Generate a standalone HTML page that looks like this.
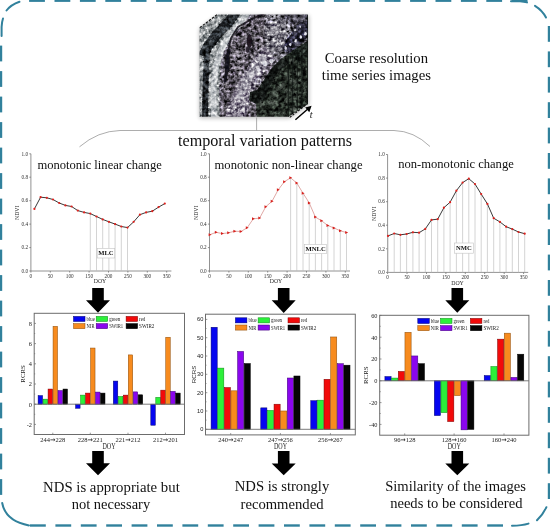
<!DOCTYPE html>
<html><head><meta charset="utf-8"><title>Temporal variation patterns</title>
<style>
html,body{margin:0;padding:0;background:#fff;}
body{width:550px;height:527px;overflow:hidden;}
svg{display:block;font-family:"Liberation Serif","Times New Roman",serif;}
</style></head><body>
<svg width="550" height="527" viewBox="0 0 550 527">
<rect width="550" height="527" fill="#fff"/>
<defs>
<clipPath id="imgclip"><path d="M199.5 27.8 L217.6 14.6 H308 V104 L288.6 116.8 H199.5Z"/></clipPath>
<filter id="speck" x="190" y="8" width="128" height="118" filterUnits="userSpaceOnUse" color-interpolation-filters="sRGB">
<feGaussianBlur in="SourceGraphic" stdDeviation="0.7" result="b"/>
<feTurbulence type="fractalNoise" baseFrequency="0.33" numOctaves="2" seed="11" result="t"/>
<feColorMatrix in="t" type="matrix" values="1.15 1.15 0 0 -0.66  1.15 1.15 0 0 -0.66  1.15 1.15 0 0 -0.66  0 0 0 0 1" result="g"/>
<feBlend in="g" in2="b" mode="overlay" result="o"/>
<feTurbulence type="fractalNoise" baseFrequency="0.14" numOctaves="2" seed="4" result="t2"/>
<feColorMatrix in="t2" type="matrix" values="1.0 1.0 0 0 -0.6  1.0 1.0 0 0 -0.6  1.0 1.0 0 0 -0.6  0 0 0 0 1" result="g2"/>
<feBlend in="g2" in2="o" mode="soft-light"/>
</filter>
<filter id="soft" x="190" y="8" width="128" height="118" filterUnits="userSpaceOnUse"><feGaussianBlur stdDeviation="0.45"/></filter>
<filter id="shadow" x="185" y="5" width="140" height="125" filterUnits="userSpaceOnUse"><feGaussianBlur stdDeviation="2.2"/></filter>
</defs>
<path d="M199.5 28.8 L217.6 15.6 H309 V105 L289.6 118.2 H199.5Z" fill="#000" opacity="0.28" filter="url(#shadow)"/>
<g clip-path="url(#imgclip)">
<g filter="url(#speck)">
<rect x="190" y="8" width="128" height="118" fill="#75717d"/>
<!-- left light zone -->
<path d="M195 10 H250 L236 28 L226 44 L221 62 L219 90 L220 120 H195Z" fill="#a4a8aa"/>
<!-- mauve body -->
<path d="M262 12 L250 20 L237 28 L230 40 L228 56 L226 70 L222 90 L221 120 H258 L257 104 L260 92 L266 80 L274 68 L270 50 L268 28 L280 12Z" fill="#6b6670"/>
<!-- lighter lavender streak -->
<path d="M270 42 L254 58 L240 78 L230 100 L224 120 H246 L250 100 L258 82 L268 66 L278 54Z" fill="#96909e"/>
<path d="M262 52 L246 74 L236 96 L240 100 L254 76 L268 58Z" fill="#b3b0ba"/>
<!-- upper right gray -->
<path d="M266 12 H312 V44 L292 54 L276 60 L266 46 L264 28Z" fill="#77757f"/>
<path d="M264 24 L284 20 L288 40 L278 54 L266 48Z" fill="#8d8b94"/>
<path d="M310 14 L312 32 L290 56 L282 48 L296 26Z" fill="#3c3b4c"/>
<path d="M282 12 H312 V20 L292 24Z" fill="#484652"/>
<path d="M284.5 46.0 L288.3 36.0 L288.7 44.5Z" fill="#2b2a40"/><ellipse cx="285.7" cy="48.0" rx="1.3" ry="1.7" fill="#e6e6ee"/><path d="M289.2 42.7 L293.0 32.7 L293.4 41.2Z" fill="#2b2a40"/><ellipse cx="290.4" cy="44.7" rx="1.3" ry="1.7" fill="#e6e6ee"/><path d="M294.4 38.9 L298.2 28.9 L298.6 37.4Z" fill="#2b2a40"/><ellipse cx="295.6" cy="40.9" rx="1.3" ry="1.7" fill="#e6e6ee"/><path d="M299.7 35.0 L303.5 25.0 L303.9 33.5Z" fill="#2b2a40"/><ellipse cx="300.9" cy="37.0" rx="1.3" ry="1.7" fill="#e6e6ee"/><path d="M304.4 31.7 L308.2 21.7 L308.6 30.2Z" fill="#2b2a40"/><ellipse cx="305.6" cy="33.7" rx="1.3" ry="1.7" fill="#e6e6ee"/><ellipse cx="280.2" cy="41.0" rx="1.0" ry="1.2" fill="#c9c9d2"/><ellipse cx="284.9" cy="37.7" rx="1.0" ry="1.2" fill="#c9c9d2"/><ellipse cx="290.1" cy="33.9" rx="1.0" ry="1.2" fill="#c9c9d2"/><ellipse cx="295.4" cy="30.0" rx="1.0" ry="1.2" fill="#c9c9d2"/><ellipse cx="300.1" cy="26.7" rx="1.0" ry="1.2" fill="#c9c9d2"/>
<!-- dark band -->
<path d="M236 10 L228 22 L215 35 L207 48 L206.5 62 L205.5 90 L205 120" fill="none" stroke="#34393e" stroke-width="6" stroke-linejoin="round"/>
<path d="M237 10 L229 22 L217 34 L208 46 L203 56" fill="none" stroke="#34393e" stroke-width="10" stroke-linejoin="round"/>
<!-- white band -->
<path d="M250 10 L241 22 L229 36 L221 50 L216 66 L213.5 90 L214 120" fill="none" stroke="#c9cccf" stroke-width="6" stroke-linejoin="round"/>
<!-- dark green -->
<path d="M312 40 L294 50 L282 58 L272 68 L264 80 L258 92 L256 104 L257 120 H312Z" fill="#333b34"/>
<path d="M282 58 L272 68 L264 80 L257 90 L250 92 L249 100 L256 104 L264 100 L270 86 L278 72 L290 62Z" fill="#171b19"/>
<path d="M292 51 L312 38 V56 L298 62Z" fill="#1d2420"/>
<circle cx="265" cy="63.5" r="2.6" fill="#e2e2e8"/>
<circle cx="271.6" cy="61" r="2.2" fill="#d8d8e0"/>
<circle cx="258.2" cy="81" r="2.7" fill="none" stroke="#b5b0c4" stroke-width="1.2"/>
<circle cx="259" cy="70" r="1.8" fill="#cfcbd9"/>
</g>
<g opacity="0.88" filter="url(#soft)"><!-- crack -->
<path d="M268 12 L252 19 L238 27 L231 38 L228.5 50 L228.5 58" fill="none" stroke="#15121a" stroke-width="1.7"/>
<path d="M229 50 L227.5 58 L227 70 L225 81" fill="none" stroke="#0e0c12" stroke-width="3.2" stroke-linecap="round"/><path d="M227.6 58 L227.2 70" fill="none" stroke="#0e0c12" stroke-width="4.8" stroke-linecap="round"/>
<ellipse cx="249.4" cy="41" rx="2.7" ry="7" fill="#120f16"/>
<ellipse cx="247.6" cy="49.5" rx="1.8" ry="3.2" fill="#221d28"/>
</g>
<!-- slices -->
<g stroke="#101412" stroke-width="0.9" opacity="0.9">
<line x1="288.4" y1="56" x2="288.4" y2="117"/><line x1="292.7" y1="50" x2="292.7" y2="115"/><line x1="297.3" y1="46" x2="297.3" y2="112"/><line x1="302" y1="42" x2="302" y2="109"/><line x1="307.6" y1="15" x2="307.6" y2="105"/>
</g>
</g>
<path d="M199.8 27.6 L218 13.9" stroke="#111" stroke-width="1.1" stroke-dasharray="2.4 1.4" fill="none"/>
<path d="M289.8 117.4 L306.8 104.2" stroke="#111" stroke-width="1.1" stroke-dasharray="2.2 1.3" fill="none"/>
<path d="M295.4 119.7 L308.4 108.5" stroke="#000" stroke-width="1.5" fill="none"/>
<path d="M311.6 105.8 L305.2 107.6 L309.3 112.2Z" fill="#000"/>
<text x="309.8" y="118" font-size="10" font-style="italic" fill="#111">t</text>

<g fill="none" stroke="#31819c" stroke-width="2.4">
<line x1="29.1" y1="0.7" x2="44.9" y2="0.7"/>
<line x1="54.5" y1="0.7" x2="70.3" y2="0.7"/>
<line x1="79.9" y1="0.7" x2="95.7" y2="0.7"/>
<line x1="105.3" y1="0.7" x2="121.1" y2="0.7"/>
<line x1="130.7" y1="0.7" x2="146.5" y2="0.7"/>
<line x1="156.1" y1="0.7" x2="171.9" y2="0.7"/>
<line x1="181.5" y1="0.7" x2="197.3" y2="0.7"/>
<line x1="206.9" y1="0.7" x2="222.7" y2="0.7"/>
<line x1="232.3" y1="0.7" x2="248.1" y2="0.7"/>
<line x1="257.7" y1="0.7" x2="273.5" y2="0.7"/>
<line x1="283.1" y1="0.7" x2="298.9" y2="0.7"/>
<line x1="308.5" y1="0.7" x2="324.3" y2="0.7"/>
<line x1="333.9" y1="0.7" x2="349.7" y2="0.7"/>
<line x1="359.3" y1="0.7" x2="375.1" y2="0.7"/>
<line x1="384.7" y1="0.7" x2="400.5" y2="0.7"/>
<line x1="410.1" y1="0.7" x2="425.9" y2="0.7"/>
<line x1="435.5" y1="0.7" x2="451.3" y2="0.7"/>
<line x1="460.9" y1="0.7" x2="476.7" y2="0.7"/>
<line x1="486.3" y1="0.7" x2="502.1" y2="0.7"/>
<line x1="511.7" y1="0.7" x2="527.5" y2="0.7"/>
<line x1="30.0" y1="525.5" x2="45.8" y2="525.5"/>
<line x1="55.4" y1="525.5" x2="71.2" y2="525.5"/>
<line x1="80.8" y1="525.5" x2="96.6" y2="525.5"/>
<line x1="106.2" y1="525.5" x2="122.0" y2="525.5"/>
<line x1="131.6" y1="525.5" x2="147.4" y2="525.5"/>
<line x1="157.0" y1="525.5" x2="172.8" y2="525.5"/>
<line x1="182.4" y1="525.5" x2="198.2" y2="525.5"/>
<line x1="207.8" y1="525.5" x2="223.6" y2="525.5"/>
<line x1="233.2" y1="525.5" x2="249.0" y2="525.5"/>
<line x1="258.6" y1="525.5" x2="274.4" y2="525.5"/>
<line x1="284.0" y1="525.5" x2="299.8" y2="525.5"/>
<line x1="309.4" y1="525.5" x2="325.2" y2="525.5"/>
<line x1="334.8" y1="525.5" x2="350.6" y2="525.5"/>
<line x1="360.2" y1="525.5" x2="376.0" y2="525.5"/>
<line x1="385.6" y1="525.5" x2="401.4" y2="525.5"/>
<line x1="411.0" y1="525.5" x2="426.8" y2="525.5"/>
<line x1="436.4" y1="525.5" x2="452.2" y2="525.5"/>
<line x1="461.8" y1="525.5" x2="477.6" y2="525.5"/>
<line x1="487.2" y1="525.5" x2="503.0" y2="525.5"/>
<line x1="1.0" y1="45.6" x2="1.0" y2="61.4"/>
<line x1="1.0" y1="71.1" x2="1.0" y2="86.9"/>
<line x1="1.0" y1="96.6" x2="1.0" y2="112.4"/>
<line x1="1.0" y1="122.1" x2="1.0" y2="137.9"/>
<line x1="1.0" y1="147.6" x2="1.0" y2="163.4"/>
<line x1="1.0" y1="173.1" x2="1.0" y2="188.9"/>
<line x1="1.0" y1="198.6" x2="1.0" y2="214.4"/>
<line x1="1.0" y1="224.1" x2="1.0" y2="239.9"/>
<line x1="1.0" y1="249.6" x2="1.0" y2="265.4"/>
<line x1="1.0" y1="275.1" x2="1.0" y2="290.9"/>
<line x1="1.0" y1="300.6" x2="1.0" y2="316.4"/>
<line x1="1.0" y1="326.1" x2="1.0" y2="341.9"/>
<line x1="1.0" y1="351.6" x2="1.0" y2="367.4"/>
<line x1="1.0" y1="377.1" x2="1.0" y2="392.9"/>
<line x1="1.0" y1="402.6" x2="1.0" y2="418.4"/>
<line x1="1.0" y1="428.1" x2="1.0" y2="443.9"/>
<line x1="1.0" y1="453.6" x2="1.0" y2="469.4"/>
<line x1="1.0" y1="479.1" x2="1.0" y2="494.9"/>
<line x1="549" y1="26.0" x2="549" y2="41.8"/>
<line x1="549" y1="51.4" x2="549" y2="67.2"/>
<line x1="549" y1="76.8" x2="549" y2="92.6"/>
<line x1="549" y1="102.2" x2="549" y2="118.0"/>
<line x1="549" y1="127.6" x2="549" y2="143.4"/>
<line x1="549" y1="153.0" x2="549" y2="168.8"/>
<line x1="549" y1="178.4" x2="549" y2="194.2"/>
<line x1="549" y1="203.8" x2="549" y2="219.6"/>
<line x1="549" y1="229.2" x2="549" y2="245.0"/>
<line x1="549" y1="254.6" x2="549" y2="270.4"/>
<line x1="549" y1="280.0" x2="549" y2="295.8"/>
<line x1="549" y1="305.4" x2="549" y2="321.2"/>
<line x1="549" y1="330.8" x2="549" y2="346.6"/>
<line x1="549" y1="356.2" x2="549" y2="372.0"/>
<line x1="549" y1="381.6" x2="549" y2="397.4"/>
<line x1="549" y1="407.0" x2="549" y2="422.8"/>
<line x1="549" y1="432.4" x2="549" y2="448.2"/>
<line x1="549" y1="457.8" x2="549" y2="473.6"/>
<line x1="549" y1="483.2" x2="549" y2="499.0"/>
</g>
<g fill="none" stroke="#31819c" stroke-width="2.0" stroke-linecap="round">
<path d="M1.6 36 L1.6 27 Q1.8 22 3 18.5"/>
<path d="M6.5 10.5 Q11 4.8 19.5 1.8"/>
<path d="M511 1.2 L520 1.2 Q524 1.4 527 2.4"/>
<path d="M535 5.8 Q542.5 10.5 546 17.5"/>
<path d="M2.2 503 Q5.5 521 29 525.4"/>
<path d="M546.4 507.2 Q543 514.5 537 520.3"/>
<path d="M528.5 523.6 Q522 525.6 512 525.8"/>
</g>
<g fill="#111">
<text x="376.40" y="62.70" font-size="14.7" text-anchor="middle" textLength="103.30" lengthAdjust="spacingAndGlyphs">Coarse resolution</text>
<text x="376.40" y="79.90" font-size="14.7" text-anchor="middle" textLength="109.10" lengthAdjust="spacingAndGlyphs">time series images</text>
<text x="265.00" y="145.70" font-size="16.2" text-anchor="middle" textLength="174.00" lengthAdjust="spacingAndGlyphs">temporal variation patterns</text>
</g>
<path d="M79.5 146.8 Q98 131 120 130.5 L394 130.5 Q414 131 430 146.5" fill="none" stroke="#8a8a8a" stroke-width="0.7"/>
<line x1="256.6" y1="117.5" x2="256.6" y2="130.5" stroke="#8a8a8a" stroke-width="0.7"/>
<g stroke="#6e6e6e" stroke-width="0.75" fill="none">
<path d="M30.9 153.8 V271.0 H171.4"/>
<line x1="29.3" y1="271.0" x2="30.9" y2="271.0"/>
<line x1="29.3" y1="247.6" x2="30.9" y2="247.6"/>
<line x1="29.3" y1="224.1" x2="30.9" y2="224.1"/>
<line x1="29.3" y1="200.7" x2="30.9" y2="200.7"/>
<line x1="29.3" y1="177.2" x2="30.9" y2="177.2"/>
<line x1="29.3" y1="153.8" x2="30.9" y2="153.8"/>
<line x1="30.9" y1="271.0" x2="30.9" y2="272.6"/>
<line x1="50.3" y1="271.0" x2="50.3" y2="272.6"/>
<line x1="69.7" y1="271.0" x2="69.7" y2="272.6"/>
<line x1="89.1" y1="271.0" x2="89.1" y2="272.6"/>
<line x1="108.5" y1="271.0" x2="108.5" y2="272.6"/>
<line x1="127.9" y1="271.0" x2="127.9" y2="272.6"/>
<line x1="147.3" y1="271.0" x2="147.3" y2="272.6"/>
<line x1="166.7" y1="271.0" x2="166.7" y2="272.6"/>
</g>
<g fill="#2a2a2a">
<text x="28.10" y="272.70" font-size="5.2" text-anchor="end">0.0</text>
<text x="28.10" y="249.26" font-size="5.2" text-anchor="end">0.2</text>
<text x="28.10" y="225.82" font-size="5.2" text-anchor="end">0.4</text>
<text x="28.10" y="202.38" font-size="5.2" text-anchor="end">0.6</text>
<text x="28.10" y="178.94" font-size="5.2" text-anchor="end">0.8</text>
<text x="28.10" y="155.50" font-size="5.2" text-anchor="end">1.0</text>
<text x="30.90" y="277.80" font-size="5.2" text-anchor="middle">0</text>
<text x="50.30" y="277.80" font-size="5.2" text-anchor="middle">50</text>
<text x="69.70" y="277.80" font-size="5.2" text-anchor="middle">100</text>
<text x="89.10" y="277.80" font-size="5.2" text-anchor="middle">150</text>
<text x="108.50" y="277.80" font-size="5.2" text-anchor="middle">200</text>
<text x="127.90" y="277.80" font-size="5.2" text-anchor="middle">250</text>
<text x="147.30" y="277.80" font-size="5.2" text-anchor="middle">300</text>
<text x="166.70" y="277.80" font-size="5.2" text-anchor="middle">350</text>
<text x="100.00" y="283.00" font-size="5.8" text-anchor="middle">DOY</text>
<text x="0.00" y="0.00" font-size="5.7" text-anchor="middle" transform="translate(19.3 212.8) rotate(-90)">NDVI</text>
</g>
<g stroke="#bcbcbc" stroke-width="0.65">
<line x1="90.3" y1="213.6" x2="90.3" y2="271.0"/>
<line x1="96.5" y1="216.5" x2="96.5" y2="271.0"/>
<line x1="102.7" y1="219.4" x2="102.7" y2="271.0"/>
<line x1="108.9" y1="221.8" x2="108.9" y2="271.0"/>
<line x1="115.1" y1="224.1" x2="115.1" y2="271.0"/>
<line x1="121.3" y1="226.5" x2="121.3" y2="271.0"/>
<line x1="127.5" y1="227.6" x2="127.5" y2="271.0"/>
</g>
<path d="M34.4 208.9 L40.6 197.2 L46.8 197.8 L53.0 199.5 L59.2 203.0 L65.4 205.4 L71.6 206.5 L77.8 210.6 L84.1 212.4 L90.3 213.6 L96.5 216.5 L102.7 219.4 L108.9 221.8 L115.1 224.1 L121.3 226.5 L127.5 227.6 L133.7 221.8 L139.9 214.7 L146.1 212.4 L152.3 211.2 L158.6 207.1 L164.8 203.6" fill="none" stroke="#222" stroke-width="0.9" stroke-linejoin="round"/>
<g fill="#e0201c">
<circle cx="34.4" cy="208.9" r="1.1"/>
<circle cx="40.6" cy="197.2" r="1.1"/>
<circle cx="46.8" cy="197.8" r="1.1"/>
<circle cx="53.0" cy="199.5" r="1.1"/>
<circle cx="59.2" cy="203.0" r="1.1"/>
<circle cx="65.4" cy="205.4" r="1.1"/>
<circle cx="71.6" cy="206.5" r="1.1"/>
<circle cx="77.8" cy="210.6" r="1.1"/>
<circle cx="84.1" cy="212.4" r="1.1"/>
<circle cx="90.3" cy="213.6" r="1.1"/>
<circle cx="96.5" cy="216.5" r="1.1"/>
<circle cx="102.7" cy="219.4" r="1.1"/>
<circle cx="108.9" cy="221.8" r="1.1"/>
<circle cx="115.1" cy="224.1" r="1.1"/>
<circle cx="121.3" cy="226.5" r="1.1"/>
<circle cx="127.5" cy="227.6" r="1.1"/>
<circle cx="133.7" cy="221.8" r="1.1"/>
<circle cx="139.9" cy="214.7" r="1.1"/>
<circle cx="146.1" cy="212.4" r="1.1"/>
<circle cx="152.3" cy="211.2" r="1.1"/>
<circle cx="158.6" cy="207.1" r="1.1"/>
<circle cx="164.8" cy="203.6" r="1.1"/>
</g>
<rect x="97.2" y="248.3" width="17.5" height="9.7" fill="#fff" stroke="#c4c4c4" stroke-width="0.6"/>
<text x="105.95" y="255.25" font-size="6.6" text-anchor="middle" font-weight="bold" fill="#111">MLC</text>
<text x="37.40" y="168.90" font-size="12.6" fill="#111" textLength="124.40" lengthAdjust="spacingAndGlyphs">monotonic linear change</text>
<g stroke="#6e6e6e" stroke-width="0.75" fill="none">
<path d="M209.5 153.8 V271.0 H350.0"/>
<line x1="207.9" y1="271.0" x2="209.5" y2="271.0"/>
<line x1="207.9" y1="247.6" x2="209.5" y2="247.6"/>
<line x1="207.9" y1="224.1" x2="209.5" y2="224.1"/>
<line x1="207.9" y1="200.7" x2="209.5" y2="200.7"/>
<line x1="207.9" y1="177.2" x2="209.5" y2="177.2"/>
<line x1="207.9" y1="153.8" x2="209.5" y2="153.8"/>
<line x1="209.5" y1="271.0" x2="209.5" y2="272.6"/>
<line x1="228.9" y1="271.0" x2="228.9" y2="272.6"/>
<line x1="248.3" y1="271.0" x2="248.3" y2="272.6"/>
<line x1="267.7" y1="271.0" x2="267.7" y2="272.6"/>
<line x1="287.1" y1="271.0" x2="287.1" y2="272.6"/>
<line x1="306.5" y1="271.0" x2="306.5" y2="272.6"/>
<line x1="325.9" y1="271.0" x2="325.9" y2="272.6"/>
<line x1="345.3" y1="271.0" x2="345.3" y2="272.6"/>
</g>
<g fill="#2a2a2a">
<text x="206.70" y="272.70" font-size="5.2" text-anchor="end">0.0</text>
<text x="206.70" y="249.26" font-size="5.2" text-anchor="end">0.2</text>
<text x="206.70" y="225.82" font-size="5.2" text-anchor="end">0.4</text>
<text x="206.70" y="202.38" font-size="5.2" text-anchor="end">0.6</text>
<text x="206.70" y="178.94" font-size="5.2" text-anchor="end">0.8</text>
<text x="206.70" y="155.50" font-size="5.2" text-anchor="end">1.0</text>
<text x="209.50" y="277.60" font-size="5.2" text-anchor="middle">0</text>
<text x="228.90" y="277.60" font-size="5.2" text-anchor="middle">50</text>
<text x="248.30" y="277.60" font-size="5.2" text-anchor="middle">100</text>
<text x="267.70" y="277.60" font-size="5.2" text-anchor="middle">150</text>
<text x="287.10" y="277.60" font-size="5.2" text-anchor="middle">200</text>
<text x="306.50" y="277.60" font-size="5.2" text-anchor="middle">250</text>
<text x="325.90" y="277.60" font-size="5.2" text-anchor="middle">300</text>
<text x="345.30" y="277.60" font-size="5.2" text-anchor="middle">350</text>
<text x="276.00" y="283.00" font-size="5.8" text-anchor="middle">DOY</text>
<text x="0.00" y="0.00" font-size="5.7" text-anchor="middle" transform="translate(197.9 212.8) rotate(-90)">NDVI</text>
</g>
<g stroke="#bcbcbc" stroke-width="0.65">
<line x1="290.6" y1="177.8" x2="290.6" y2="271.0"/>
<line x1="296.8" y1="183.1" x2="296.8" y2="271.0"/>
<line x1="303.0" y1="193.2" x2="303.0" y2="271.0"/>
<line x1="309.2" y1="202.9" x2="309.2" y2="271.0"/>
<line x1="315.4" y1="217.1" x2="315.4" y2="271.0"/>
<line x1="321.6" y1="220.8" x2="321.6" y2="271.0"/>
<line x1="327.8" y1="225.5" x2="327.8" y2="271.0"/>
<line x1="334.0" y1="228.0" x2="334.0" y2="271.0"/>
<line x1="340.3" y1="230.8" x2="340.3" y2="271.0"/>
<line x1="346.5" y1="232.6" x2="346.5" y2="271.0"/>
</g>
<path d="M209.9 234.7 L216.1 232.3 L222.3 233.6 L228.5 232.8 L234.7 231.2 L240.9 231.5 L247.1 227.8 L253.3 218.8 L259.6 218.1 L265.8 206.7 L272.0 201.3 L278.2 189.8 L284.4 181.7 L290.6 177.8 L296.8 183.1 L303.0 193.2 L309.2 202.9 L315.4 217.1 L321.6 220.8 L327.8 225.5 L334.0 228.0 L340.3 230.8 L346.5 232.6" fill="none" stroke="#c0504a" stroke-width="0.5" stroke-linejoin="round"/>
<g fill="#d8201c">
<path d="M208.6 233.2 L211.5 234.7 L208.6 236.2Z"/>
<path d="M214.8 230.8 L217.7 232.3 L214.8 233.8Z"/>
<path d="M221.0 232.1 L223.9 233.6 L221.0 235.1Z"/>
<path d="M227.2 231.3 L230.1 232.8 L227.2 234.3Z"/>
<path d="M233.4 229.7 L236.3 231.2 L233.4 232.7Z"/>
<path d="M239.6 230.0 L242.5 231.5 L239.6 233.0Z"/>
<path d="M245.8 226.3 L248.7 227.8 L245.8 229.3Z"/>
<path d="M252.0 217.3 L254.9 218.8 L252.0 220.3Z"/>
<path d="M258.3 216.6 L261.2 218.1 L258.3 219.6Z"/>
<path d="M264.5 205.2 L267.4 206.7 L264.5 208.2Z"/>
<path d="M270.7 199.8 L273.6 201.3 L270.7 202.8Z"/>
<path d="M276.9 188.3 L279.8 189.8 L276.9 191.3Z"/>
<path d="M283.1 180.2 L286.0 181.7 L283.1 183.2Z"/>
<path d="M289.3 176.3 L292.2 177.8 L289.3 179.3Z"/>
<path d="M295.5 181.6 L298.4 183.1 L295.5 184.6Z"/>
<path d="M301.7 191.7 L304.6 193.2 L301.7 194.7Z"/>
<path d="M307.9 201.4 L310.8 202.9 L307.9 204.4Z"/>
<path d="M314.1 215.6 L317.0 217.1 L314.1 218.6Z"/>
<path d="M320.3 219.3 L323.2 220.8 L320.3 222.3Z"/>
<path d="M326.5 224.0 L329.4 225.5 L326.5 227.0Z"/>
<path d="M332.7 226.5 L335.6 228.0 L332.7 229.5Z"/>
<path d="M339.0 229.3 L341.9 230.8 L339.0 232.3Z"/>
<path d="M345.2 231.1 L348.1 232.6 L345.2 234.1Z"/>
</g>
<rect x="304.6" y="244.4" width="22.0" height="9.3" fill="#fff" stroke="#c4c4c4" stroke-width="0.6"/>
<text x="315.60" y="251.15" font-size="6.6" text-anchor="middle" font-weight="bold" fill="#111">MNLC</text>
<text x="214.50" y="168.70" font-size="12.6" fill="#111" textLength="148.00" lengthAdjust="spacingAndGlyphs">monotonic non-linear change</text>
<g stroke="#6e6e6e" stroke-width="0.75" fill="none">
<path d="M387.6 154.5 V272.4 H528.2"/>
<line x1="386.0" y1="272.4" x2="387.6" y2="272.4"/>
<line x1="386.0" y1="248.8" x2="387.6" y2="248.8"/>
<line x1="386.0" y1="225.2" x2="387.6" y2="225.2"/>
<line x1="386.0" y1="201.7" x2="387.6" y2="201.7"/>
<line x1="386.0" y1="178.1" x2="387.6" y2="178.1"/>
<line x1="386.0" y1="154.5" x2="387.6" y2="154.5"/>
<line x1="387.6" y1="272.4" x2="387.6" y2="274.0"/>
<line x1="407.0" y1="272.4" x2="407.0" y2="274.0"/>
<line x1="426.5" y1="272.4" x2="426.5" y2="274.0"/>
<line x1="445.9" y1="272.4" x2="445.9" y2="274.0"/>
<line x1="465.3" y1="272.4" x2="465.3" y2="274.0"/>
<line x1="484.7" y1="272.4" x2="484.7" y2="274.0"/>
<line x1="504.2" y1="272.4" x2="504.2" y2="274.0"/>
<line x1="523.6" y1="272.4" x2="523.6" y2="274.0"/>
</g>
<g fill="#2a2a2a">
<text x="384.80" y="274.10" font-size="5.2" text-anchor="end">0.0</text>
<text x="384.80" y="250.52" font-size="5.2" text-anchor="end">0.2</text>
<text x="384.80" y="226.94" font-size="5.2" text-anchor="end">0.4</text>
<text x="384.80" y="203.36" font-size="5.2" text-anchor="end">0.6</text>
<text x="384.80" y="179.78" font-size="5.2" text-anchor="end">0.8</text>
<text x="384.80" y="156.20" font-size="5.2" text-anchor="end">1.0</text>
<text x="387.60" y="279.30" font-size="5.2" text-anchor="middle">0</text>
<text x="407.03" y="279.30" font-size="5.2" text-anchor="middle">50</text>
<text x="426.45" y="279.30" font-size="5.2" text-anchor="middle">100</text>
<text x="445.88" y="279.30" font-size="5.2" text-anchor="middle">150</text>
<text x="465.30" y="279.30" font-size="5.2" text-anchor="middle">200</text>
<text x="484.73" y="279.30" font-size="5.2" text-anchor="middle">250</text>
<text x="504.15" y="279.30" font-size="5.2" text-anchor="middle">300</text>
<text x="523.58" y="279.30" font-size="5.2" text-anchor="middle">350</text>
<text x="457.50" y="284.60" font-size="5.8" text-anchor="middle">DOY</text>
<text x="0.00" y="0.00" font-size="5.7" text-anchor="middle" transform="translate(376.0 213.8) rotate(-90)">NDVI</text>
</g>
<g stroke="#bcbcbc" stroke-width="0.65">
<line x1="388.0" y1="235.9" x2="388.0" y2="272.4"/>
<line x1="394.2" y1="233.5" x2="394.2" y2="272.4"/>
<line x1="400.4" y1="234.8" x2="400.4" y2="272.4"/>
<line x1="406.6" y1="234.0" x2="406.6" y2="272.4"/>
<line x1="412.9" y1="232.3" x2="412.9" y2="272.4"/>
<line x1="419.1" y1="232.7" x2="419.1" y2="272.4"/>
<line x1="425.3" y1="228.9" x2="425.3" y2="272.4"/>
<line x1="431.5" y1="219.9" x2="431.5" y2="272.4"/>
<line x1="437.7" y1="219.2" x2="437.7" y2="272.4"/>
<line x1="443.9" y1="207.7" x2="443.9" y2="272.4"/>
<line x1="450.1" y1="202.2" x2="450.1" y2="272.4"/>
<line x1="456.4" y1="190.7" x2="456.4" y2="272.4"/>
<line x1="462.6" y1="182.6" x2="462.6" y2="272.4"/>
<line x1="468.8" y1="178.7" x2="468.8" y2="272.4"/>
<line x1="475.0" y1="184.0" x2="475.0" y2="272.4"/>
<line x1="481.2" y1="194.1" x2="481.2" y2="272.4"/>
<line x1="487.4" y1="203.9" x2="487.4" y2="272.4"/>
<line x1="493.7" y1="218.2" x2="493.7" y2="272.4"/>
<line x1="499.9" y1="221.9" x2="499.9" y2="272.4"/>
<line x1="506.1" y1="226.7" x2="506.1" y2="272.4"/>
<line x1="512.3" y1="229.1" x2="512.3" y2="272.4"/>
<line x1="518.5" y1="232.0" x2="518.5" y2="272.4"/>
<line x1="524.7" y1="233.7" x2="524.7" y2="272.4"/>
</g>
<path d="M388.0 235.9 L394.2 233.5 L400.4 234.8 L406.6 234.0 L412.9 232.3 L419.1 232.7 L425.3 228.9 L431.5 219.9 L437.7 219.2 L443.9 207.7 L450.1 202.2 L456.4 190.7 L462.6 182.6 L468.8 178.7 L475.0 184.0 L481.2 194.1 L487.4 203.9 L493.7 218.2 L499.9 221.9 L506.1 226.7 L512.3 229.1 L518.5 232.0 L524.7 233.7" fill="none" stroke="#222" stroke-width="0.9" stroke-linejoin="round"/>
<g fill="#e0201c">
<circle cx="388.0" cy="235.9" r="1.1"/>
<circle cx="394.2" cy="233.5" r="1.1"/>
<circle cx="400.4" cy="234.8" r="1.1"/>
<circle cx="406.6" cy="234.0" r="1.1"/>
<circle cx="412.9" cy="232.3" r="1.1"/>
<circle cx="419.1" cy="232.7" r="1.1"/>
<circle cx="425.3" cy="228.9" r="1.1"/>
<circle cx="431.5" cy="219.9" r="1.1"/>
<circle cx="437.7" cy="219.2" r="1.1"/>
<circle cx="443.9" cy="207.7" r="1.1"/>
<circle cx="450.1" cy="202.2" r="1.1"/>
<circle cx="456.4" cy="190.7" r="1.1"/>
<circle cx="462.6" cy="182.6" r="1.1"/>
<circle cx="468.8" cy="178.7" r="1.1"/>
<circle cx="475.0" cy="184.0" r="1.1"/>
<circle cx="481.2" cy="194.1" r="1.1"/>
<circle cx="487.4" cy="203.9" r="1.1"/>
<circle cx="493.7" cy="218.2" r="1.1"/>
<circle cx="499.9" cy="221.9" r="1.1"/>
<circle cx="506.1" cy="226.7" r="1.1"/>
<circle cx="512.3" cy="229.1" r="1.1"/>
<circle cx="518.5" cy="232.0" r="1.1"/>
<circle cx="524.7" cy="233.7" r="1.1"/>
</g>
<rect x="454.5" y="243.0" width="18.9" height="10.2" fill="#fff" stroke="#c4c4c4" stroke-width="0.6"/>
<text x="463.95" y="250.20" font-size="6.6" text-anchor="middle" font-weight="bold" fill="#111">NMC</text>
<text x="398.20" y="167.80" font-size="12.6" fill="#111" textLength="115.60" lengthAdjust="spacingAndGlyphs">non-monotonic change</text>
<path d="M92.2 287.9 H103.8 V300.3 H110.0 L98.0 312.8 L86.0 300.3 H92.2Z" fill="#000"/>
<path d="M277.9 287.9 H289.5 V300.3 H295.7 L283.7 313.0 L271.7 300.3 H277.9Z" fill="#000"/>
<path d="M451.5 287.9 H463.1 V300.3 H469.3 L457.3 312.8 L445.3 300.3 H451.5Z" fill="#000"/>
<path d="M92.2 450.9 H103.8 V463.3 H110.0 L98.0 475.3 L86.0 463.3 H92.2Z" fill="#000"/>
<path d="M277.9 451.1 H289.5 V463.5 H295.7 L283.7 475.2 L271.7 463.5 H277.9Z" fill="#000"/>
<path d="M451.5 451.1 H463.1 V463.5 H469.3 L457.3 475.2 L445.3 463.5 H451.5Z" fill="#000"/>
<rect x="38.11" y="395.62" width="4.48" height="8.58" fill="#0505f0" stroke="#00006e" stroke-width="0.5"/>
<rect x="43.09" y="399.15" width="4.48" height="5.05" fill="#2cf03a" stroke="#0a8a14" stroke-width="0.5"/>
<rect x="48.07" y="389.05" width="4.48" height="15.15" fill="#f20a0a" stroke="#7a0000" stroke-width="0.5"/>
<rect x="53.05" y="326.33" width="4.48" height="77.87" fill="#f78b1e" stroke="#8a4a08" stroke-width="0.5"/>
<rect x="58.03" y="390.56" width="4.48" height="13.63" fill="#8a06ee" stroke="#3c0078" stroke-width="0.5"/>
<rect x="63.01" y="389.05" width="4.48" height="15.15" fill="#050505" stroke="#000" stroke-width="0.5"/>
<rect x="75.61" y="404.20" width="4.48" height="4.04" fill="#0505f0" stroke="#00006e" stroke-width="0.5"/>
<rect x="80.59" y="395.11" width="4.48" height="9.09" fill="#2cf03a" stroke="#0a8a14" stroke-width="0.5"/>
<rect x="85.57" y="393.09" width="4.48" height="11.11" fill="#f20a0a" stroke="#7a0000" stroke-width="0.5"/>
<rect x="90.55" y="348.04" width="4.48" height="56.16" fill="#f78b1e" stroke="#8a4a08" stroke-width="0.5"/>
<rect x="95.53" y="392.08" width="4.48" height="12.12" fill="#8a06ee" stroke="#3c0078" stroke-width="0.5"/>
<rect x="100.51" y="393.09" width="4.48" height="11.11" fill="#050505" stroke="#000" stroke-width="0.5"/>
<rect x="113.31" y="381.07" width="4.48" height="23.13" fill="#0505f0" stroke="#00006e" stroke-width="0.5"/>
<rect x="118.29" y="396.52" width="4.48" height="7.68" fill="#2cf03a" stroke="#0a8a14" stroke-width="0.5"/>
<rect x="123.27" y="395.11" width="4.48" height="9.09" fill="#f20a0a" stroke="#7a0000" stroke-width="0.5"/>
<rect x="128.25" y="354.91" width="4.48" height="49.29" fill="#f78b1e" stroke="#8a4a08" stroke-width="0.5"/>
<rect x="133.23" y="391.88" width="4.48" height="12.32" fill="#8a06ee" stroke="#3c0078" stroke-width="0.5"/>
<rect x="138.21" y="394.81" width="4.48" height="9.39" fill="#050505" stroke="#000" stroke-width="0.5"/>
<rect x="150.81" y="404.20" width="4.48" height="21.01" fill="#0505f0" stroke="#00006e" stroke-width="0.5"/>
<rect x="155.79" y="397.33" width="4.48" height="6.87" fill="#2cf03a" stroke="#0a8a14" stroke-width="0.5"/>
<rect x="160.77" y="390.16" width="4.48" height="14.04" fill="#f20a0a" stroke="#7a0000" stroke-width="0.5"/>
<rect x="165.75" y="337.24" width="4.48" height="66.96" fill="#f78b1e" stroke="#8a4a08" stroke-width="0.5"/>
<rect x="170.73" y="391.37" width="4.48" height="12.83" fill="#8a06ee" stroke="#3c0078" stroke-width="0.5"/>
<rect x="175.71" y="393.09" width="4.48" height="11.11" fill="#050505" stroke="#000" stroke-width="0.5"/>
<rect x="34.2" y="313.3" width="150.3" height="121.2" fill="none" stroke="#6c6c6c" stroke-width="1"/>
<line x1="34.2" y1="404.2" x2="184.5" y2="404.2" stroke="#6c6c6c" stroke-width="0.9"/>
<g stroke="#6c6c6c" stroke-width="0.7">
<line x1="34.2" y1="424.4" x2="36.0" y2="424.4"/>
<line x1="34.2" y1="414.3" x2="35.2" y2="414.3"/>
<line x1="34.2" y1="404.2" x2="36.0" y2="404.2"/>
<line x1="34.2" y1="394.1" x2="35.2" y2="394.1"/>
<line x1="34.2" y1="384.0" x2="36.0" y2="384.0"/>
<line x1="34.2" y1="373.9" x2="35.2" y2="373.9"/>
<line x1="34.2" y1="363.8" x2="36.0" y2="363.8"/>
<line x1="34.2" y1="353.7" x2="35.2" y2="353.7"/>
<line x1="34.2" y1="343.6" x2="36.0" y2="343.6"/>
<line x1="34.2" y1="333.5" x2="35.2" y2="333.5"/>
<line x1="34.2" y1="323.4" x2="36.0" y2="323.4"/>
<line x1="52.8" y1="434.5" x2="52.8" y2="432.7"/>
<line x1="90.3" y1="434.5" x2="90.3" y2="432.7"/>
<line x1="128.0" y1="434.5" x2="128.0" y2="432.7"/>
<line x1="165.5" y1="434.5" x2="165.5" y2="432.7"/>
</g>
<g fill="#222">
<text transform="translate(32.00 426.70) scale(0.93 1)" font-size="6.8" text-anchor="end">-2</text>
<text transform="translate(32.00 406.50) scale(0.93 1)" font-size="6.8" text-anchor="end">0</text>
<text transform="translate(32.00 386.30) scale(0.93 1)" font-size="6.8" text-anchor="end">2</text>
<text transform="translate(32.00 366.10) scale(0.93 1)" font-size="6.8" text-anchor="end">4</text>
<text transform="translate(32.00 345.90) scale(0.93 1)" font-size="6.8" text-anchor="end">6</text>
<text transform="translate(32.00 325.70) scale(0.93 1)" font-size="6.8" text-anchor="end">8</text>
<text transform="translate(52.80 441.60) scale(0.94 1)" font-size="6.9" text-anchor="middle">244<tspan font-family="DejaVu Sans, sans-serif">→</tspan>228</text>
<text transform="translate(90.30 441.60) scale(0.94 1)" font-size="6.9" text-anchor="middle">228<tspan font-family="DejaVu Sans, sans-serif">→</tspan>221</text>
<text transform="translate(128.00 441.60) scale(0.94 1)" font-size="6.9" text-anchor="middle">221<tspan font-family="DejaVu Sans, sans-serif">→</tspan>212</text>
<text transform="translate(165.50 441.60) scale(0.94 1)" font-size="6.9" text-anchor="middle">212<tspan font-family="DejaVu Sans, sans-serif">→</tspan>201</text>
<text transform="translate(109.00 448.50) scale(0.83 1)" font-size="7.3" text-anchor="middle">DOY</text>
<text x="0.00" y="0.00" font-size="6.9" text-anchor="middle" transform="translate(24.9 373.9) rotate(-90)">RCRS</text>
</g>
<rect x="73.5" y="316.4" width="11.5" height="5.1" fill="#0505f0" stroke="#00006e" stroke-width="0.5"/>
<text x="86.50" y="320.90" font-size="5.9" fill="#1a1a1a" textLength="8.30" lengthAdjust="spacingAndGlyphs">blue</text>
<rect x="96.2" y="316.4" width="11.5" height="5.1" fill="#2cf03a" stroke="#0a8a14" stroke-width="0.5"/>
<text x="109.20" y="320.90" font-size="5.9" fill="#1a1a1a" textLength="11.00" lengthAdjust="spacingAndGlyphs">green</text>
<rect x="126.1" y="316.4" width="11.5" height="5.1" fill="#f20a0a" stroke="#7a0000" stroke-width="0.5"/>
<text x="139.10" y="320.90" font-size="5.9" fill="#1a1a1a" textLength="6.10" lengthAdjust="spacingAndGlyphs">red</text>
<rect x="73.5" y="323.6" width="11.5" height="5.1" fill="#f78b1e" stroke="#8a4a08" stroke-width="0.5"/>
<text x="86.50" y="328.10" font-size="5.9" fill="#1a1a1a" textLength="8.00" lengthAdjust="spacingAndGlyphs">NIR</text>
<rect x="96.2" y="323.6" width="11.5" height="5.1" fill="#8a06ee" stroke="#3c0078" stroke-width="0.5"/>
<text x="109.20" y="328.10" font-size="5.9" fill="#1a1a1a" textLength="14.00" lengthAdjust="spacingAndGlyphs">SWIR1</text>
<rect x="126.1" y="323.6" width="11.5" height="5.1" fill="#050505" stroke="#000" stroke-width="0.5"/>
<text x="139.10" y="328.10" font-size="5.9" fill="#1a1a1a" textLength="15.30" lengthAdjust="spacingAndGlyphs">SWIR2</text>
<rect x="211.09" y="327.26" width="6.12" height="102.04" fill="#0505f0" stroke="#00006e" stroke-width="0.5"/>
<rect x="217.71" y="368.11" width="6.12" height="61.19" fill="#2cf03a" stroke="#0a8a14" stroke-width="0.5"/>
<rect x="224.33" y="387.53" width="6.12" height="41.77" fill="#f20a0a" stroke="#7a0000" stroke-width="0.5"/>
<rect x="230.95" y="390.83" width="6.12" height="38.47" fill="#f78b1e" stroke="#8a4a08" stroke-width="0.5"/>
<rect x="237.57" y="351.44" width="6.12" height="77.86" fill="#8a06ee" stroke="#3c0078" stroke-width="0.5"/>
<rect x="244.19" y="363.53" width="6.12" height="65.77" fill="#050505" stroke="#000" stroke-width="0.5"/>
<rect x="260.79" y="407.87" width="6.12" height="21.43" fill="#0505f0" stroke="#00006e" stroke-width="0.5"/>
<rect x="267.41" y="410.43" width="6.12" height="18.87" fill="#2cf03a" stroke="#0a8a14" stroke-width="0.5"/>
<rect x="274.03" y="404.20" width="6.12" height="25.10" fill="#f20a0a" stroke="#7a0000" stroke-width="0.5"/>
<rect x="280.65" y="410.98" width="6.12" height="18.32" fill="#f78b1e" stroke="#8a4a08" stroke-width="0.5"/>
<rect x="287.27" y="378.00" width="6.12" height="51.30" fill="#8a06ee" stroke="#3c0078" stroke-width="0.5"/>
<rect x="293.89" y="375.99" width="6.12" height="53.31" fill="#050505" stroke="#000" stroke-width="0.5"/>
<rect x="310.79" y="400.72" width="6.12" height="28.58" fill="#0505f0" stroke="#00006e" stroke-width="0.5"/>
<rect x="317.41" y="400.17" width="6.12" height="29.13" fill="#2cf03a" stroke="#0a8a14" stroke-width="0.5"/>
<rect x="324.03" y="379.29" width="6.12" height="50.01" fill="#f20a0a" stroke="#7a0000" stroke-width="0.5"/>
<rect x="330.65" y="336.97" width="6.12" height="92.33" fill="#f78b1e" stroke="#8a4a08" stroke-width="0.5"/>
<rect x="337.27" y="363.71" width="6.12" height="65.59" fill="#8a06ee" stroke="#3c0078" stroke-width="0.5"/>
<rect x="343.89" y="365.18" width="6.12" height="64.12" fill="#050505" stroke="#000" stroke-width="0.5"/>
<rect x="205.5" y="314.2" width="149.8" height="120.7" fill="none" stroke="#6c6c6c" stroke-width="1"/>
<line x1="205.5" y1="429.3" x2="355.3" y2="429.3" stroke="#6c6c6c" stroke-width="0.9"/>
<g stroke="#6c6c6c" stroke-width="0.7">
<line x1="205.5" y1="429.3" x2="207.3" y2="429.3"/>
<line x1="205.5" y1="420.1" x2="206.5" y2="420.1"/>
<line x1="205.5" y1="411.0" x2="207.3" y2="411.0"/>
<line x1="205.5" y1="401.8" x2="206.5" y2="401.8"/>
<line x1="205.5" y1="392.7" x2="207.3" y2="392.7"/>
<line x1="205.5" y1="383.5" x2="206.5" y2="383.5"/>
<line x1="205.5" y1="374.3" x2="207.3" y2="374.3"/>
<line x1="205.5" y1="365.2" x2="206.5" y2="365.2"/>
<line x1="205.5" y1="356.0" x2="207.3" y2="356.0"/>
<line x1="205.5" y1="346.9" x2="206.5" y2="346.9"/>
<line x1="205.5" y1="337.7" x2="207.3" y2="337.7"/>
<line x1="205.5" y1="328.5" x2="206.5" y2="328.5"/>
<line x1="205.5" y1="319.4" x2="207.3" y2="319.4"/>
<line x1="230.7" y1="434.9" x2="230.7" y2="433.1"/>
<line x1="280.4" y1="434.9" x2="280.4" y2="433.1"/>
<line x1="330.4" y1="434.9" x2="330.4" y2="433.1"/>
</g>
<g fill="#222">
<text x="203.30" y="431.40" font-size="5.7" text-anchor="end" font-family="Liberation Sans, Arial, sans-serif">0</text>
<text x="203.30" y="413.08" font-size="5.7" text-anchor="end" font-family="Liberation Sans, Arial, sans-serif">10</text>
<text x="203.30" y="394.76" font-size="5.7" text-anchor="end" font-family="Liberation Sans, Arial, sans-serif">20</text>
<text x="203.30" y="376.44" font-size="5.7" text-anchor="end" font-family="Liberation Sans, Arial, sans-serif">30</text>
<text x="203.30" y="358.12" font-size="5.7" text-anchor="end" font-family="Liberation Sans, Arial, sans-serif">40</text>
<text x="203.30" y="339.80" font-size="5.7" text-anchor="end" font-family="Liberation Sans, Arial, sans-serif">50</text>
<text x="203.30" y="321.48" font-size="5.7" text-anchor="end" font-family="Liberation Sans, Arial, sans-serif">60</text>
<text transform="translate(230.70 441.80) scale(0.94 1)" font-size="6.9" text-anchor="middle">240<tspan font-family="DejaVu Sans, sans-serif">→</tspan>247</text>
<text transform="translate(280.40 441.80) scale(0.94 1)" font-size="6.9" text-anchor="middle">247<tspan font-family="DejaVu Sans, sans-serif">→</tspan>256</text>
<text transform="translate(330.40 441.80) scale(0.94 1)" font-size="6.9" text-anchor="middle">256<tspan font-family="DejaVu Sans, sans-serif">→</tspan>267</text>
<text transform="translate(280.50 448.90) scale(0.83 1)" font-size="7.3" text-anchor="middle">DOY</text>
<text x="0.00" y="0.00" font-size="6.2" text-anchor="middle" font-family="Liberation Sans, Arial, sans-serif" transform="translate(195.9 374.5) rotate(-90)">RCRS</text>
</g>
<rect x="235.4" y="317.8" width="11.5" height="5.1" fill="#0505f0" stroke="#00006e" stroke-width="0.5"/>
<text x="248.40" y="322.30" font-size="5.9" fill="#1a1a1a" textLength="8.30" lengthAdjust="spacingAndGlyphs">blue</text>
<rect x="258.1" y="317.8" width="11.5" height="5.1" fill="#2cf03a" stroke="#0a8a14" stroke-width="0.5"/>
<text x="271.10" y="322.30" font-size="5.9" fill="#1a1a1a" textLength="11.00" lengthAdjust="spacingAndGlyphs">green</text>
<rect x="288.0" y="317.8" width="11.5" height="5.1" fill="#f20a0a" stroke="#7a0000" stroke-width="0.5"/>
<text x="301.00" y="322.30" font-size="5.9" fill="#1a1a1a" textLength="6.10" lengthAdjust="spacingAndGlyphs">red</text>
<rect x="235.4" y="325.0" width="11.5" height="5.1" fill="#f78b1e" stroke="#8a4a08" stroke-width="0.5"/>
<text x="248.40" y="329.50" font-size="5.9" fill="#1a1a1a" textLength="8.00" lengthAdjust="spacingAndGlyphs">NIR</text>
<rect x="258.1" y="325.0" width="11.5" height="5.1" fill="#8a06ee" stroke="#3c0078" stroke-width="0.5"/>
<text x="271.10" y="329.50" font-size="5.9" fill="#1a1a1a" textLength="14.00" lengthAdjust="spacingAndGlyphs">SWIR1</text>
<rect x="288.0" y="325.0" width="11.5" height="5.1" fill="#050505" stroke="#000" stroke-width="0.5"/>
<text x="301.00" y="329.50" font-size="5.9" fill="#1a1a1a" textLength="15.30" lengthAdjust="spacingAndGlyphs">SWIR2</text>
<rect x="384.91" y="376.55" width="6.18" height="4.25" fill="#0505f0" stroke="#00006e" stroke-width="0.5"/>
<rect x="391.59" y="378.07" width="6.18" height="2.73" fill="#2cf03a" stroke="#0a8a14" stroke-width="0.5"/>
<rect x="398.27" y="371.43" width="6.18" height="9.37" fill="#f20a0a" stroke="#7a0000" stroke-width="0.5"/>
<rect x="404.95" y="332.30" width="6.18" height="48.50" fill="#f78b1e" stroke="#8a4a08" stroke-width="0.5"/>
<rect x="411.63" y="355.95" width="6.18" height="24.85" fill="#8a06ee" stroke="#3c0078" stroke-width="0.5"/>
<rect x="418.31" y="363.69" width="6.18" height="17.11" fill="#050505" stroke="#000" stroke-width="0.5"/>
<rect x="434.31" y="380.80" width="6.18" height="34.77" fill="#0505f0" stroke="#00006e" stroke-width="0.5"/>
<rect x="440.99" y="380.80" width="6.18" height="31.83" fill="#2cf03a" stroke="#0a8a14" stroke-width="0.5"/>
<rect x="447.67" y="380.80" width="6.18" height="40.77" fill="#f20a0a" stroke="#7a0000" stroke-width="0.5"/>
<rect x="454.35" y="380.80" width="6.18" height="14.82" fill="#f78b1e" stroke="#8a4a08" stroke-width="0.5"/>
<rect x="461.03" y="380.80" width="6.18" height="49.05" fill="#8a06ee" stroke="#3c0078" stroke-width="0.5"/>
<rect x="467.71" y="380.80" width="6.18" height="48.61" fill="#050505" stroke="#000" stroke-width="0.5"/>
<rect x="484.21" y="375.57" width="6.18" height="5.23" fill="#0505f0" stroke="#00006e" stroke-width="0.5"/>
<rect x="490.89" y="366.52" width="6.18" height="14.28" fill="#2cf03a" stroke="#0a8a14" stroke-width="0.5"/>
<rect x="497.57" y="339.16" width="6.18" height="41.64" fill="#f20a0a" stroke="#7a0000" stroke-width="0.5"/>
<rect x="504.25" y="333.17" width="6.18" height="47.63" fill="#f78b1e" stroke="#8a4a08" stroke-width="0.5"/>
<rect x="510.93" y="377.42" width="6.18" height="3.38" fill="#8a06ee" stroke="#3c0078" stroke-width="0.5"/>
<rect x="517.61" y="354.20" width="6.18" height="26.60" fill="#050505" stroke="#000" stroke-width="0.5"/>
<rect x="379.7" y="315.3" width="149.2" height="119.9" fill="none" stroke="#6c6c6c" stroke-width="1"/>
<line x1="379.7" y1="380.8" x2="528.9" y2="380.8" stroke="#6c6c6c" stroke-width="0.9"/>
<g stroke="#6c6c6c" stroke-width="0.7">
<line x1="379.7" y1="424.4" x2="381.5" y2="424.4"/>
<line x1="379.7" y1="413.5" x2="380.7" y2="413.5"/>
<line x1="379.7" y1="402.6" x2="381.5" y2="402.6"/>
<line x1="379.7" y1="391.7" x2="380.7" y2="391.7"/>
<line x1="379.7" y1="380.8" x2="381.5" y2="380.8"/>
<line x1="379.7" y1="369.9" x2="380.7" y2="369.9"/>
<line x1="379.7" y1="359.0" x2="381.5" y2="359.0"/>
<line x1="379.7" y1="348.1" x2="380.7" y2="348.1"/>
<line x1="379.7" y1="337.2" x2="381.5" y2="337.2"/>
<line x1="379.7" y1="326.3" x2="380.7" y2="326.3"/>
<line x1="379.7" y1="315.4" x2="381.5" y2="315.4"/>
<line x1="404.7" y1="435.2" x2="404.7" y2="433.4"/>
<line x1="454.1" y1="435.2" x2="454.1" y2="433.4"/>
<line x1="504.0" y1="435.2" x2="504.0" y2="433.4"/>
</g>
<g fill="#222">
<text transform="translate(377.50 426.70) scale(0.93 1)" font-size="6.8" text-anchor="end">-40</text>
<text transform="translate(377.50 404.90) scale(0.93 1)" font-size="6.8" text-anchor="end">-20</text>
<text transform="translate(377.50 383.10) scale(0.93 1)" font-size="6.8" text-anchor="end">0</text>
<text transform="translate(377.50 361.30) scale(0.93 1)" font-size="6.8" text-anchor="end">20</text>
<text transform="translate(377.50 339.50) scale(0.93 1)" font-size="6.8" text-anchor="end">40</text>
<text transform="translate(377.50 317.70) scale(0.93 1)" font-size="6.8" text-anchor="end">60</text>
<text transform="translate(404.70 441.90) scale(0.94 1)" font-size="6.9" text-anchor="middle">96<tspan font-family="DejaVu Sans, sans-serif">→</tspan>128</text>
<text transform="translate(454.10 441.90) scale(0.94 1)" font-size="6.9" text-anchor="middle">128<tspan font-family="DejaVu Sans, sans-serif">→</tspan>160</text>
<text transform="translate(504.00 441.90) scale(0.94 1)" font-size="6.9" text-anchor="middle">160<tspan font-family="DejaVu Sans, sans-serif">→</tspan>240</text>
<text transform="translate(454.20 448.70) scale(0.83 1)" font-size="7.3" text-anchor="middle">DOY</text>
<text x="0.00" y="0.00" font-size="6.9" text-anchor="middle" transform="translate(367.6 375.2) rotate(-90)">RCRS</text>
</g>
<rect x="417.8" y="318.4" width="11.5" height="5.1" fill="#0505f0" stroke="#00006e" stroke-width="0.5"/>
<text x="430.80" y="322.90" font-size="5.9" fill="#1a1a1a" textLength="8.30" lengthAdjust="spacingAndGlyphs">blue</text>
<rect x="440.5" y="318.4" width="11.5" height="5.1" fill="#2cf03a" stroke="#0a8a14" stroke-width="0.5"/>
<text x="453.50" y="322.90" font-size="5.9" fill="#1a1a1a" textLength="11.00" lengthAdjust="spacingAndGlyphs">green</text>
<rect x="470.4" y="318.4" width="11.5" height="5.1" fill="#f20a0a" stroke="#7a0000" stroke-width="0.5"/>
<text x="483.40" y="322.90" font-size="5.9" fill="#1a1a1a" textLength="6.10" lengthAdjust="spacingAndGlyphs">red</text>
<rect x="417.8" y="325.6" width="11.5" height="5.1" fill="#f78b1e" stroke="#8a4a08" stroke-width="0.5"/>
<text x="430.80" y="330.10" font-size="5.9" fill="#1a1a1a" textLength="8.00" lengthAdjust="spacingAndGlyphs">NIR</text>
<rect x="440.5" y="325.6" width="11.5" height="5.1" fill="#8a06ee" stroke="#3c0078" stroke-width="0.5"/>
<text x="453.50" y="330.10" font-size="5.9" fill="#1a1a1a" textLength="14.00" lengthAdjust="spacingAndGlyphs">SWIR1</text>
<rect x="470.4" y="325.6" width="11.5" height="5.1" fill="#050505" stroke="#000" stroke-width="0.5"/>
<text x="483.40" y="330.10" font-size="5.9" fill="#1a1a1a" textLength="15.30" lengthAdjust="spacingAndGlyphs">SWIR2</text>
<g fill="#111">
<text x="111.40" y="491.90" font-size="14.7" text-anchor="middle" textLength="136.70" lengthAdjust="spacingAndGlyphs">NDS is appropriate but</text>
<text x="110.90" y="509.30" font-size="14.7" text-anchor="middle" textLength="78.50" lengthAdjust="spacingAndGlyphs">not necessary</text>
<text x="282.00" y="491.00" font-size="14.7" text-anchor="middle" textLength="94.60" lengthAdjust="spacingAndGlyphs">NDS is strongly</text>
<text x="282.00" y="508.50" font-size="14.7" text-anchor="middle" textLength="83.00" lengthAdjust="spacingAndGlyphs">recommended</text>
<text x="455.60" y="491.00" font-size="14.7" text-anchor="middle" textLength="140.80" lengthAdjust="spacingAndGlyphs">Similarity of the images</text>
<text x="456.30" y="507.90" font-size="14.7" text-anchor="middle" textLength="132.30" lengthAdjust="spacingAndGlyphs">needs to be considered</text>
</g>
</svg>
</body></html>
